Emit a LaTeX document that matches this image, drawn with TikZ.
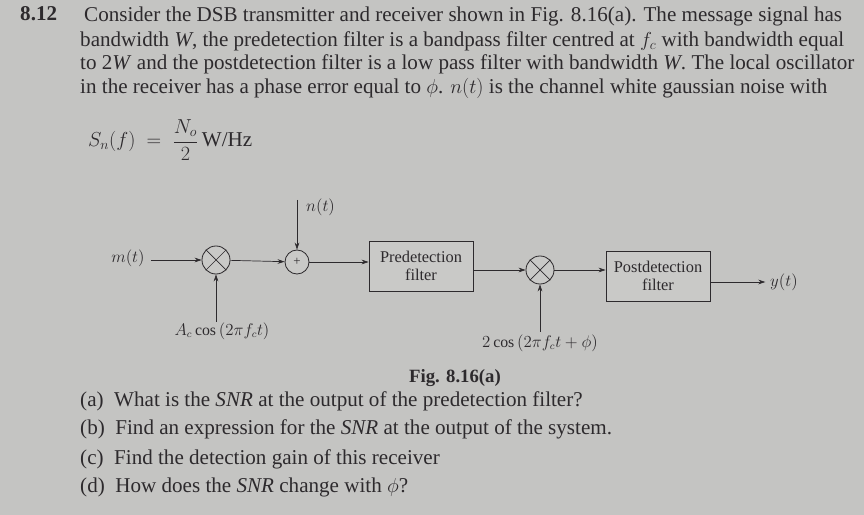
\documentclass[tikz,border=0pt]{standalone}
\usepackage{fontspec}
\setmainfont{Liberation Serif}
\usetikzlibrary{arrows.meta}
\definecolor{paper}{RGB}{196,196,194}
\definecolor{ink}{RGB}{45,42,45}
\begin{document}
\begin{tikzpicture}[x=0.03cm,y=-0.03cm,
  txt/.style={anchor=west,inner sep=0,text=ink,font=\fontsize{18}{20}\selectfont},
  lbl/.style={inner sep=0,text=ink,font=\fontsize{13.5}{15}\selectfont},
  blk/.style={draw=ink,fill=paper!92!white,line width=0.7pt,minimum width=104*0.03cm,minimum height=50*0.03cm,align=center,text=ink,font=\fontsize{14}{15}\selectfont},
  mult/.style={circle,draw=ink,fill=paper!92!white,line width=0.7pt,minimum size=28*0.03cm,inner sep=0},
  sig/.style={draw=ink,line width=0.6pt,-{Stealth[length=6pt,width=4pt]}}]
\fill[paper] (0,0) rectangle (864,515);
\node[txt,font=\fontsize{18}{20}\selectfont\bfseries] (num) at (20,14) {8.12};
\node[txt] (l1) at (84,16) {Consider the DSB transmitter and receiver shown in Fig. 8.16(a). The message signal has};
\node[txt] (l2) at (80,41) {bandwidth \textit{W}, the predetection filter is a bandpass filter centred at $f_c$ with bandwidth equal};
\node[txt] (l3) at (80,64) {to 2\textit{W} and the postdetection filter is a low pass filter with bandwidth \textit{W}. The local oscillator};
\node[txt] (l4) at (80,88) {in the receiver has a phase error equal to $\phi$. $n(t)$ is the channel white gaussian noise with};
\node[txt] (sn) at (88,140) {$\displaystyle S_n(f)\;=\;\frac{N_o}{2}$\,W/Hz};
% diagram
\node[lbl] (m) at (128,258) {$m(t)$};
\node[mult] (x1) at (216,260) {};
\draw[ink,line width=0.6pt] (x1.north west)--(x1.south east) (x1.north east)--(x1.south west);
\node[mult,minimum size=24*0.03cm,font=\fontsize{11}{12}\selectfont,text=ink] (add) at (297,262) {+};
\node[blk] (pre) at (421,266) {Predetection\\filter};
\node[mult] (x2) at (540,270) {};
\draw[ink,line width=0.6pt] (x2.north west)--(x2.south east) (x2.north east)--(x2.south west);
\node[blk] (post) at (658,276) {Postdetection\\filter};
\node[lbl,anchor=west] (y) at (770,282) {$y(t)$};
\node[lbl,anchor=west] (n) at (306,207) {$n(t)$};
\coordinate (ntop) at (297,200);
\coordinate (c1) at (216,322);
\coordinate (c2) at (540,332);
\node[lbl] (a1) at (222,331) {$A_c\cos\,(2\pi f_ct)$};
\node[lbl] (a2) at (540,343) {$2\cos\,(2\pi f_ct+\phi)$};
\draw[sig] (m.east|-x1)++(6,0) -- (x1);
\draw[sig] (c1) -- (x1);
\draw[sig] (x1) -- (add);
\draw[sig] (ntop) -- (add);
\draw[sig] (add) -- (pre.west|-add);
\draw[sig] (pre.east|-x2) -- (x2);
\draw[sig] (c2) -- (x2);
\draw[sig] (x2) -- (post.west|-x2);
\draw[sig] (post.east|-y) -- ([xshift=-4pt]y.west);
\node[lbl,font=\fontsize{16}{17}\selectfont\bfseries] (fig) at (455,378) {Fig. 8.16(a)};
\node[txt] (qa) at (80,401) {(a)\ \ What is the \textit{SNR} at the output of the predetection filter?};
\node[txt] (qb) at (80,429) {(b)\ \ Find an expression for the \textit{SNR} at the output of the system.};
\node[txt] (qc) at (80,459) {(c)\ \ Find the detection gain of this receiver};
\node[txt] (qd) at (80,487) {(d)\ \ How does the \textit{SNR} change with $\phi$?};
\end{tikzpicture}
\end{document}
